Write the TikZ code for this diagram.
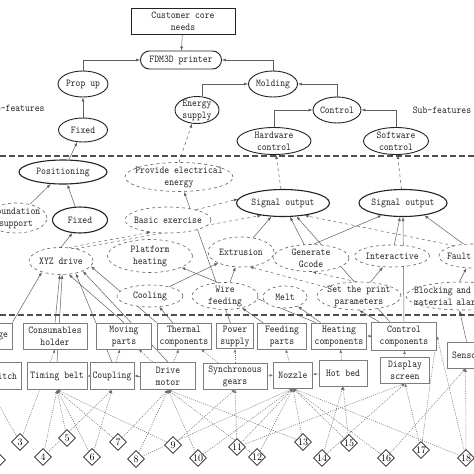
\documentclass[tikz,border=0pt]{standalone}
\usepackage{fontspec}
\usepackage{xcolor}
\usetikzlibrary{arrows.meta, shapes.geometric, backgrounds}
\newfontfamily\diagtt{lmmono10-regular.otf}[FakeStretch=0.88]
\newcommand{\diagfont}{\diagtt\fontsize{10.5}{12}\selectfont}
\definecolor{darkText}{RGB}{35,35,35}
\definecolor{lineGray}{RGB}{95,95,95}
\definecolor{boxGray}{RGB}{125,125,125}
\definecolor{dotGray}{RGB}{115,115,115}
\tikzset{
    needbox/.style={
        rectangle,
        draw=darkText,
        line width=0.7pt,
        fill=white,
        align=center,
        font=\diagfont,
        text=darkText,
        minimum width=104pt,
        minimum height=26pt,
        inner sep=1pt
    },
    rootbox/.style={
        rectangle,
        rounded corners=9pt,
        draw=darkText,
        line width=0.9pt,
        fill=white,
        font=\diagfont,
        text=darkText,
        minimum width=81pt,
        minimum height=18pt,
        inner sep=1pt
    },
    funcell/.style={
        ellipse,
        draw=darkText,
        line width=0.9pt,
        fill=white,
        align=center,
        font=\diagfont,
        text=darkText,
        inner xsep=-6pt,
        inner ysep=-3pt
    },
    subell/.style={funcell, line width=1.1pt},
    dashell/.style={
        ellipse,
        draw=lineGray,
        dashed,
        line width=0.6pt,
        fill=white,
        align=center,
        font=\diagfont,
        text=darkText,
        inner xsep=-6pt,
        inner ysep=-3pt
    },
    partbox/.style={
        rectangle,
        draw=boxGray,
        line width=0.8pt,
        fill=white,
        align=center,
        font=\diagfont,
        text=darkText,
        inner sep=1pt
    },
    tagnode/.style={diamond, draw=darkText, line width=0.8pt, fill=white, inner sep=0pt, minimum size=17pt, font=\fontsize{10}{10}\selectfont},
    linkarrow/.style={-{Latex[length=4pt,width=3pt]}, draw=lineGray, line width=0.5pt},
    dasharrow/.style={linkarrow, dashed},
    dotarrow/.style={-{Latex[length=3.5pt,width=2.8pt]}, draw=dotGray, dash pattern=on 1pt off 1.2pt, line width=0.55pt},
    sepline/.style={draw=darkText!80, dash pattern=on 6pt off 3pt, line width=1.1pt},
    sidenote/.style={font=\diagfont, text=darkText}
}
\begin{document}
\begin{tikzpicture}[x=1pt, y=-1pt]
    \useasboundingbox (0,0) rectangle (474,474);
    \node[needbox] (needs) at (183,21) {Customer core\\needs};
    \node[rootbox] (printer) at (181,60) {FDM3D printer};
    \node[funcell, minimum width=50pt, minimum height=26pt] (propup) at (83,84) {Prop up};
    \node[funcell, minimum width=49pt, minimum height=26pt] (molding) at (273,84) {Molding};
    \node[funcell, minimum width=49pt, minimum height=24pt] (fixedtop) at (83,130) {Fixed};
    \node[funcell, minimum width=44pt, minimum height=27pt] (energy) at (197,110) {Energy\\supply};
    \node[funcell, minimum width=48pt, minimum height=26pt] (control) at (337,110) {Control};
    \node[funcell, minimum width=74pt, minimum height=27pt] (hardware) at (274,141) {Hardware\\control};
    \node[funcell, minimum width=65pt, minimum height=27pt] (software) at (396,141) {Software\\control};
    \node[sidenote, anchor=east] (subleft) at (48,108) {Sub-features};
    \node[sidenote] (subright) at (442,110) {Sub-features};
    \coordinate (sepAw) at (0,156);
    \coordinate (sepAe) at (474,156);
    \coordinate (sepBw) at (0,315);
    \coordinate (sepBe) at (474,315);

    \node[subell, minimum width=88pt, minimum height=24pt] (position) at (63,172) {Positioning};
    \node[dashell, minimum width=108pt, minimum height=29pt] (provide) at (179,177) {Provide electrical\\energy};
    \node[subell, minimum width=93pt, minimum height=27pt] (sig1) at (283,203) {Signal output};
    \node[subell, minimum width=88pt, minimum height=27pt] (sig2) at (403,203) {Signal output};
    \node[dashell, minimum width=62pt, minimum height=30pt] (found) at (16,218) {Foundation\\support};
    \node[subell, minimum width=55pt, minimum height=26pt] (fixedmid) at (80,220) {Fixed};
    \node[dashell, minimum width=86pt, minimum height=26pt] (basic) at (168,220) {Basic exercise};
    \node[dashell, minimum width=64pt, minimum height=27pt] (xyz) at (61,261) {XYZ drive};
    \node[dashell, minimum width=85pt, minimum height=33pt] (platform) at (150,256) {Platform\\heating};
    \node[dashell, minimum width=66pt, minimum height=30pt] (extrusion) at (241,252) {Extrusion};
    \node[dashell, minimum width=76pt, minimum height=27pt] (gcode) at (311,258) {Generate\\Gcode};
    \node[dashell, minimum width=75pt, minimum height=22pt] (interact) at (392,256) {Interactive};
    \node[dashell, minimum width=66pt, minimum height=24pt, text width=50pt, align=left] (fault) at (472,256) {Fault};
    \node[dashell, minimum width=66pt, minimum height=22pt] (cooling) at (150,296) {Cooling};
    \node[dashell, minimum width=66pt, minimum height=27pt] (wire) at (225,296) {Wire\\feeding};
    \node[dashell, minimum width=44pt, minimum height=22pt] (melt) at (285,297) {Melt};
    \node[dashell, minimum width=84pt, minimum height=28pt] (setparam) at (359,296) {Set the print\\parameters};
    \node[dashell, minimum width=112pt, minimum height=28pt, text width=96pt, align=left, inner xsep=-10pt] (blocking) at (462,296) {Blocking and\\material alarm};

    \node[partbox, minimum width=42pt, minimum height=26pt, text width=34pt, align=right] (storage) at (-9,336) {ge};
    \node[partbox, minimum width=64pt, minimum height=26pt] (consum) at (55,336) {Consumables\\holder};
    \node[partbox, minimum width=55pt, minimum height=26pt] (moving) at (124,336) {Moving\\parts};
    \node[partbox, minimum width=54pt, minimum height=26pt] (thermal) at (184,336) {Thermal\\components};
    \node[partbox, minimum width=37pt, minimum height=25pt] (power) at (235,336) {Power\\supply};
    \node[partbox, minimum width=49pt, minimum height=26pt] (feeding) at (282,336) {Feeding\\parts};
    \node[partbox, minimum width=55pt, minimum height=26pt] (heating) at (339,336) {Heating\\components};
    \node[partbox, minimum width=65pt, minimum height=28pt] (ctrlcomp) at (404,336) {Control\\components};
    \node[partbox, minimum width=66pt, minimum height=26pt, text width=56pt, align=left] (sensor) at (480,355) {Sensor};
    \node[partbox, minimum width=62pt, minimum height=27pt, text width=54pt, align=right] (switchbox) at (-10,376) {itch};
    \node[partbox, minimum width=60pt, minimum height=27pt] (timing) at (57,376) {Timing belt};
    \node[partbox, minimum width=44pt, minimum height=27pt] (coupling) at (112,376) {Coupling};
    \node[partbox, minimum width=55pt, minimum height=27pt] (drive) at (168,376) {Drive\\motor};
    \node[partbox, minimum width=64pt, minimum height=26pt] (sync) at (235,376) {Synchronous\\gears};
    \node[partbox, minimum width=39pt, minimum height=26pt] (nozzle) at (293,375) {Nozzle};
    \node[partbox, minimum width=48pt, minimum height=26pt] (hotbed) at (343,373) {Hot bed};
    \node[partbox, minimum width=49pt, minimum height=26pt] (display) at (405,370) {Display\\screen};

    \foreach \n/\x/\y in {2/-3/460, 3/20/442, 4/43/457, 5/67/438, 6/92/457, 7/118/442, 8/136/459, 9/173/445, 10/198/458, 11/237/447, 12/257/457, 13/303/442, 14/322/458, 15/349/443, 16/386/458, 17/421/450, 18/466/458}
        \node[tagnode] (d\n) at (\x,\y) {\n};

    \begin{scope}[on background layer]
        \draw[sepline] (sepAw) -- (sepAe);
        \draw[sepline] (sepBw) -- (sepBe);
        \draw[linkarrow] (needs) -- (printer);
        \draw[linkarrow] (propup.north) |- (printer.west);
        \draw[linkarrow] (molding.north) |- (printer.east);
        \draw[linkarrow] (fixedtop) -- (propup);
        \draw[linkarrow] (energy.70) |- (molding.west);
        \draw[linkarrow] (control.north) |- (molding.east);
        \draw[linkarrow] (hardware.north) |- (control.west);
        \draw[linkarrow] (software.north) |- (control.east);

        \draw[linkarrow] (position) -- (fixedtop);
        \draw[dasharrow] (provide.north) -- (energy.250);
        \draw[dasharrow] (sig1) -- (hardware);
        \draw[dasharrow] (sig2) -- (software);

        \draw[linkarrow] (found) -- (position);
        \draw[linkarrow] (fixedmid) -- (position);
        \draw[linkarrow] (xyz.north) -- (fixedmid.240);
        \draw[dasharrow] (xyz.60) -- (basic.215);
        \draw[dasharrow] (xyz.40) -- (sig1.210);
        \draw[dasharrow] (basic.20) -- (sig1.175);
        \draw[linkarrow] (extrusion) -- (sig1);
        \draw[linkarrow] (gcode) -- (sig1);
        \draw[linkarrow] (gcode.80) -- (sig2.210);
        \draw[linkarrow] (ctrlcomp.135) -- (sig1.315);
        \draw[linkarrow] (ctrlcomp.north) -- (sig2.south);
        \draw[linkarrow] (interact) -- (sig2);
        \draw[linkarrow] (fault.125) -- (sig2.330);
        \draw[dasharrow] (fault.150) -- (sig1.330);
        \draw[linkarrow] (blocking.100) -- (fault.245);
        \draw[linkarrow] (setparam) -- (interact);
        \draw[dasharrow] (setparam.100) -- (gcode.275);
        \draw[dasharrow] (setparam.165) -- (extrusion.300);
        \draw[linkarrow] (cooling) -- (extrusion);
        \draw[linkarrow] (wire) -- (extrusion);

        \draw[linkarrow] (storage.north east) -- (xyz.210);
        \draw[linkarrow] (consum.north) -- (xyz.265);
        \draw[linkarrow] (timing.north) -- (xyz.275);
        \draw[linkarrow] (moving.north) -- (xyz.300);
        \draw[linkarrow] (coupling.north) -- (xyz.320);
        \draw[linkarrow] (drive.north) -- (xyz.335);
        \draw[linkarrow] (thermal.north west) -- (xyz.350);
        \draw[linkarrow] (thermal) -- (cooling);
        \draw[linkarrow] (power) -- (provide);
        \draw[linkarrow] (feeding) -- (wire);
        \draw[linkarrow] (heating) -- (melt);
        \draw[linkarrow] (heating.150) -- (platform.340);
        \draw[linkarrow] (ctrlcomp.150) -- (setparam.south);
        \draw[linkarrow] (sensor.135) -- (blocking.260);

        \draw[dotarrow] (coupling) -- (moving);
        \draw[dotarrow] (drive) -- (moving);
        \draw[dotarrow] (drive) -- (thermal);
        \draw[dotarrow] (drive) -- (coupling);
        \draw[dotarrow] (coupling) -- (timing);
        \draw[dotarrow] (sync) -- (power);
        \draw[dotarrow] (sync) -- (thermal);
        \draw[dotarrow] (sync) -- (nozzle);
        \draw[dotarrow] (nozzle) -- (feeding);
        \draw[dotarrow] (hotbed) -- (nozzle);
        \draw[dotarrow] (hotbed) -- (heating);
        \draw[dotarrow] (ctrlcomp) -- (heating);
        \draw[dotarrow] (display) -- (ctrlcomp);

        \foreach \tag/\part in {d2/switchbox.south, d3/switchbox.south, d3/consum.south, d4/timing.south, d4/coupling.south, d5/timing.south, d6/timing.south, d6/coupling.south, d7/timing.south, d7/drive.south, d8/drive.south, d8/nozzle.south, d9/timing.south, d9/sync.south, d10/drive.south, d10/nozzle.south, d11/sync.south, d11/nozzle.south, d11/display.south, d12/nozzle.south, d12/drive.south, d13/nozzle.south, d13/drive.south, d14/hotbed.south, d14/display.south, d15/hotbed.south, d15/nozzle.south, d16/sensor.223, d16/nozzle.south, d17/display.south, d17/ctrlcomp.east, d18/sensor.223, d18/ctrlcomp.east, d18/nozzle.south}
            \draw[dotarrow] (\tag) -- (\part);
    \end{scope}
\end{tikzpicture}
\end{document}
